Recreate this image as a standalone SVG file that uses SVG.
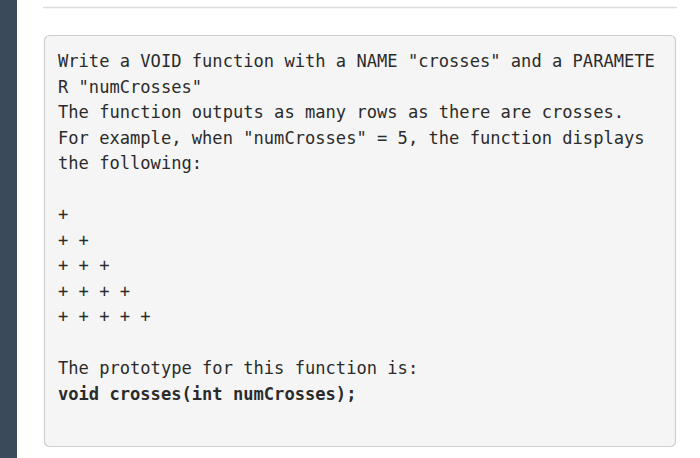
<svg xmlns="http://www.w3.org/2000/svg" width="700" height="458" viewBox="0 0 700 458">
<style>
text{font-family:"DejaVu Sans Mono",monospace;font-size:17.1px;fill:#2b2b2b;white-space:pre}
.b{font-weight:bold}
</style>
<rect x="0" y="0" width="700" height="458" fill="#fff"/>
<rect x="0" y="0" width="17" height="458" fill="#3b4a5a"/>
<line x1="43" y1="7.5" x2="677" y2="7.5" stroke="#dcdcdc" stroke-width="1.5"/>
<g id="codebox">
<rect x="44.5" y="35.5" width="631" height="411" rx="5" fill="#f5f5f5" stroke="#cfcfcf" stroke-width="1.2"/>
<text x="58" y="67">Write a VOID function with a NAME "crosses" and a PARAMETE</text>
<text x="58" y="93">R "numCrosses"</text>
<text x="58" y="118">The function outputs as many rows as there are crosses.</text>
<text x="58" y="144">For example, when "numCrosses" = 5, the function displays</text>
<text x="58" y="169">the following:</text>
<text x="58" y="220">+</text>
<text x="58" y="246">+ +</text>
<text x="58" y="271">+ + +</text>
<text x="58" y="297">+ + + +</text>
<text x="58" y="322">+ + + + +</text>
<text x="58" y="374">The prototype for this function is:</text>
<text x="58" y="400" class="b">void crosses(int numCrosses);</text>
</g>
</svg>
